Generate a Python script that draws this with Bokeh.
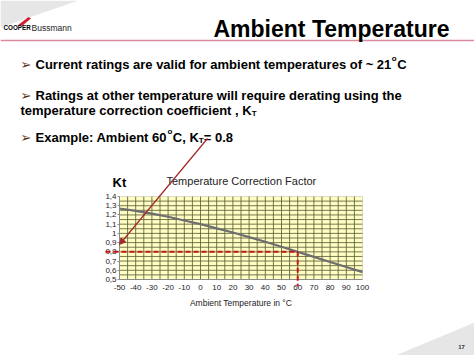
from bokeh.plotting import figure
from bokeh.models import (Range1d, FixedTicker, CustomJSTickFormatter, Label,
                          Arrow, NormalHead, PolyAnnotation, BoxAnnotation, LinearAxis)
from bokeh.embed import file_html
from bokeh.resources import INLINE

# ---------------- data ----------------
temps = [-50, -40, -30, -20, -10, 0, 10, 20, 30, 40, 50, 60, 70, 80, 90, 100]
kt = [1.27, 1.245, 1.215, 1.18, 1.14, 1.10, 1.055, 1.01, 0.96, 0.91, 0.855,
      0.80, 0.745, 0.69, 0.635, 0.58]
x_ticks = [-50, -40, -30, -20, -10, 0, 10, 20, 30, 40, 50, 60, 70, 80, 90, 100]
y_ticks = [0.5, 0.6, 0.7, 0.8, 0.9, 1.0, 1.1, 1.2, 1.3, 1.4]
example_temp = 60
example_kt = 0.8

# ---------------- geometry (chart area inside the slide) ----------------
W, H = 474, 355
FL, FR, FT, FB = 119, 362, 196, 279
X0, X1, Y0, Y1 = -50, 100, 0.5, 1.4


def dx(px):
    return X0 + (px - FL) * (X1 - X0) / (FR - FL)


def dy(py):
    return Y0 + (FB - py) * (Y1 - Y0) / (FB - FT)


# Arial/Liberation Sans Bold advance widths (1/1000 em)
BW = {' ': 278, ',': 278, '.': 278, ':': 333, '~': 584, '=': 584,
      'A': 722, 'C': 722, 'E': 667, 'K': 722, 'R': 722, 'T': 611}
for ch in 'acekvsxy':
    BW[ch] = 556
for ch in 'bdghnopqu':
    BW[ch] = 611
for ch in 'ijl':
    BW[ch] = 278
for ch in '0123456789':
    BW[ch] = 556
BW.update({'f': 333, 't': 333, 'r': 389, 'm': 889, 'w': 778, 'z': 500})


def bwidth(s, size):
    return sum(BW.get(c, 556) for c in s) * size / 1000.0


FONT = "Liberation Sans"

p = figure(width=W, height=H,
           x_range=Range1d(dx(0), dx(W)), y_range=Range1d(dy(H), dy(0)),
           x_axis_type=None, y_axis_type=None,
           output_backend="svg", toolbar_location=None, min_border=0)
p.background_fill_color = "white"
p.border_fill_color = "white"
p.outline_line_color = None

# plot area background
p.add_layout(BoxAnnotation(left=X0, right=X1, bottom=Y0, top=Y1,
                           fill_color="#FFFFC4", fill_alpha=1,
                           line_color=None, level="underlay"))

# grid lines (every 5 degC and every 0.05)
gx = [X0 + 5 * i for i in range(1, 30)]
gy = [round(Y0 + 0.05 * i, 2) for i in range(1, 18)]
p.segment(x0=gx, y0=[Y0] * len(gx), x1=gx, y1=[Y1] * len(gx),
          line_color="#5f5f3a", line_alpha=0.85, line_width=1)
p.segment(x0=[X0] * len(gy), y0=gy, x1=[X1] * len(gy), y1=gy,
          line_color="#5f5f3a", line_alpha=0.85, line_width=1)
# frame border
p.add_layout(BoxAnnotation(left=X0, right=X1, bottom=Y0, top=Y1,
                           fill_alpha=0, line_color="#8a8a8a", line_width=1))

# axes drawn at fixed positions
xax = LinearAxis(fixed_location=Y0, bounds=(X0, X1),
                 ticker=FixedTicker(ticks=x_ticks),
                 formatter=CustomJSTickFormatter(code="return tick.toString();"))
yax = LinearAxis(fixed_location=X0, bounds=(Y0, Y1),
                 ticker=FixedTicker(ticks=y_ticks),
                 formatter=CustomJSTickFormatter(
                     code="return (Math.round(tick*10)/10).toString().replace('.', ',');"))
for ax in (xax, yax):
    ax.major_label_text_font = FONT
    ax.major_label_text_font_size = "8px"
    ax.major_label_text_color = "#222222"
    ax.axis_line_color = "#8a8a8a"
    ax.major_tick_line_color = "#8a8a8a"
    ax.minor_tick_line_color = None
    ax.major_tick_in = 0
xax.major_tick_out = 0
xax.major_label_standoff = 5
yax.major_tick_out = 2
yax.major_label_standoff = 1
xax.axis_label = "Ambient Temperature in °C"
xax.axis_label_text_font = FONT
xax.axis_label_text_font_size = "8.5px"
xax.axis_label_text_font_style = "normal"
xax.axis_label_text_color = "#222222"
xax.axis_label_standoff = 5
p.add_layout(xax, "below")
p.add_layout(yax, "left")

# curve
p.line(temps, kt, line_color="#6e6e6e", line_width=2.2)

# ---------------- slide decorations ----------------
p.add_layout(PolyAnnotation(xs=[dx(0), dx(78), dx(0)], ys=[dy(0), dy(0), dy(27)],
                            fill_color="#E6E6E6", fill_alpha=1, line_color=None))
p.add_layout(PolyAnnotation(xs=[dx(395), dx(474), dx(474)], ys=[dy(355), dy(322), dy(355)],
                            fill_color="#E6E6E6", fill_alpha=1, line_color=None))
p.add_layout(PolyAnnotation(xs=[dx(17), dx(28), dx(30.5), dx(22)],
                            ys=[dy(25), dy(16.5), dy(18), dy(25)],
                            fill_color="#D01F2F", fill_alpha=1, line_color=None))
# separator line
p.add_layout(Arrow(x_start=dx(0), y_start=dy(40), x_end=dx(474), y_end=dy(40),
                   end=None, line_color="#D98A9E", line_width=1.5))

DY = -4  # baseline correction for rendered labels


def lab(px, py, text, size, bold=True, align="left", color="black", font=FONT):
    p.add_layout(Label(x=dx(px), y=dy(py + DY), text=text, text_font=font,
                       text_font_size=f"{size}px",
                       text_font_style="bold" if bold else "normal",
                       text_align=align, text_baseline="alphabetic",
                       text_color=color))


# logo
lab(3, 31, "COOPER", 6.3, True)
lab(31, 31, "Bussmann", 8.5, False, color="#222222")
# title
lab(449, 32, "Ambient Temperature", 23, True, align="right")
# page number
lab(461, 350, "17", 6, True, align="center", color="#333333")

FS = 13
SUB = 8
BUL = "\u27A2"
# line 1
lab(20, 67.5, BUL, 13, False, color="#5a2a10", font="DejaVu Sans")
s1 = "Current ratings are valid for ambient temperatures of ~ 21"
x = 35
lab(x, 67.5, s1, FS)
x += bwidth(s1, FS)
lab(x + 0.5, 62, "o", SUB)
x += bwidth("o", SUB) + 1
lab(x, 67.5, "C", FS)
# line 2
lab(20, 98.5, BUL, 13, False, color="#5a2a10", font="DejaVu Sans")
lab(35, 98.5, "Ratings at other temperature will require derating using the", FS)
# line 3
s3 = "temperature correction coefficient , K"
lab(20, 114, s3, FS)
lab(20 + bwidth(s3, FS), 117, "T", SUB)
# line 4
lab(20, 140.5, BUL, 13, False, color="#5a2a10", font="DejaVu Sans")
s4a = f"Example: Ambient {example_temp}"
x = 35
lab(x, 140.5, s4a, FS)
x += bwidth(s4a, FS)
lab(x + 0.5, 135, "o", SUB)
x += bwidth("o", SUB) + 1
s4b = "C, K"
lab(x, 140.5, s4b, FS)
x += bwidth(s4b, FS)
lab(x, 143.5, "T", SUB)
x += bwidth("T", SUB)
lab(x, 140.5, f" = {example_kt}", FS)

# chart texts
lab(112, 186, "Kt", 13, True)
lab(166, 184, "Temperature Correction Factor", 11, False, color="#222222")

# example annotation
p.add_layout(Arrow(x_start=dx(207), y_start=dy(138), x_end=X0, y_end=dy(244),
                   line_color="#A3262A", line_width=1.2,
                   end=NormalHead(size=6, fill_color="#A3262A", line_color="#A3262A")))
p.add_layout(Arrow(x_start=dx(105), y_start=example_kt, x_end=example_temp,
                   y_end=example_kt, end=None, line_color="#CC1414",
                   line_width=2, line_dash="5 3"))
p.add_layout(Arrow(x_start=example_temp, y_start=example_kt, x_end=example_temp,
                   y_end=dy(286), end=None, line_color="#CC1414",
                   line_width=2, line_dash="5 3"))

open("out.html", "w").write(file_html(p, INLINE))
